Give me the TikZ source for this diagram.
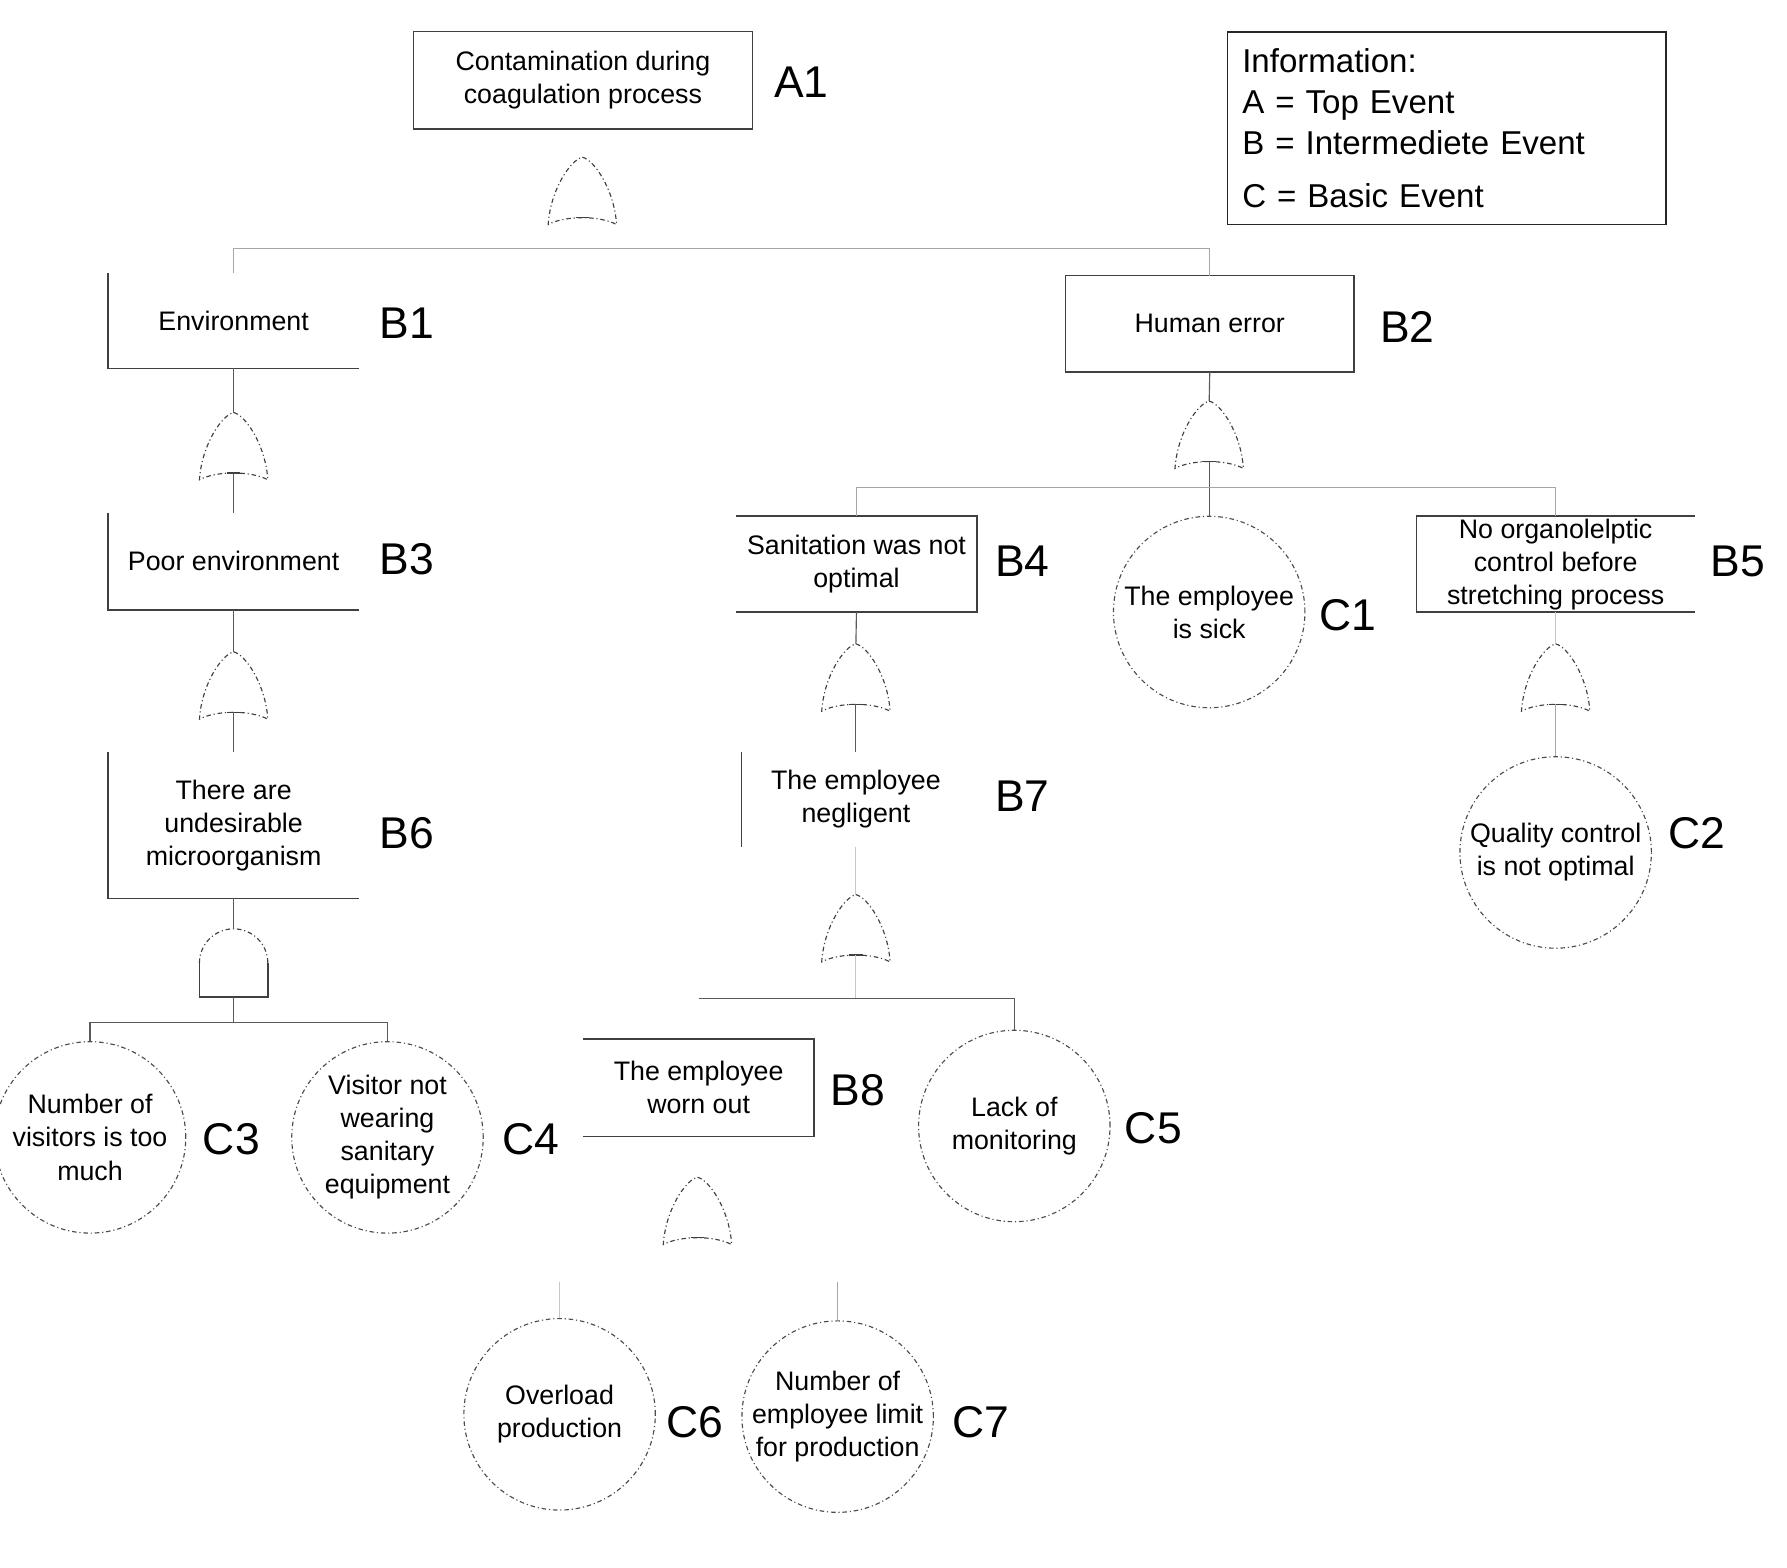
\documentclass[tikz,border=0pt]{standalone}
\usepackage{fontspec}
\setmainfont{Liberation Sans}

\begin{document}
\begin{tikzpicture}[x=1pt,y=-1pt,
    event/.style={align=center,inner sep=0,font=\fontsize{23.5}{29}\selectfont},
    basic/.style={circle,draw=black!70,line width=1pt,dash pattern=on 4pt off 2.5pt on 1pt off 2.5pt,
                  minimum size=168,inner sep=-8pt,align=center,font=\fontsize{23.5}{29}\selectfont},
    tag/.style={inner sep=0,font=\fontsize{39}{46}\selectfont},
    boxline/.style={draw=black!75,line width=1.3pt},
    link/.style={draw=black!65,line width=1pt},
    light/.style={draw=black!35,line width=1pt},
    faint/.style={draw=black!22,line width=1pt},
    gateline/.style={draw=black!75,line width=1pt,dash pattern=on 4pt off 2.5pt on 1pt off 2.5pt},
    orgate/.pic={
      \draw[gateline] (0,0) .. controls (10,2) and (28,28) .. (30,59)
                      .. controls (15,51) and (-15,51) .. (-30,59)
                      .. controls (-28,28) and (-10,2) .. cycle;
      \draw[boxline] (-6,53) -- (6,53);
      \coordinate (-top) at (0,0);
      \coordinate (-bot) at (0,53);
    },
    andgate/.pic={
      \draw[gateline] (-30,30) .. controls (-30,13.4) and (-16.6,0) .. (0,0)
                      .. controls (16.6,0) and (30,13.4) .. (30,30);
      \draw[boxline] (-30,30) -- (-30,60) -- (30,60) -- (30,30);
      \coordinate (-top) at (0,0);
      \coordinate (-bot) at (0,60);
    }]
  \useasboundingbox (0,0) rectangle (1568,1375);

  % events
  \node[event,minimum width=297,minimum height=85] (A1) at (511.5,70.5) {Contamination during\\coagulation process};
  \node[event,minimum width=220,minimum height=83] (B1) at (205,281.5) {Environment};
  \node[event,minimum width=253,minimum height=84] (B2) at (1061.5,284) {Human error};
  \node[event,minimum width=220,minimum height=85] (B3) at (205,492.5) {Poor environment};
  \node[event,minimum width=211,minimum height=84] (B4) at (751.5,495) {Sanitation was not\\optimal};
  \node[event,minimum width=244,minimum height=84] (B5) at (1365,495) {No organolelptic\\control before\\stretching process};
  \node[event,minimum width=220,minimum height=128] (B6) at (205,724) {There are\\undesirable\\microorganism};
  \node[event,minimum width=200,minimum height=83] (B7) at (751,701.5) {The employee\\negligent};
  \node[event,minimum width=202,minimum height=85] (B8) at (613,954.5) {The employee\\worn out};

  % basic events
  \node[basic] (C1) at (1061,537) {The employee\\is sick};
  \node[basic] (C2) at (1365,748) {Quality control\\is not optimal};
  \node[basic] (C3) at (79,998) {Number of\\visitors is too\\much};
  \node[basic] (C4) at (340,998) {Visitor not\\wearing\\sanitary\\equipment};
  \node[basic] (C5) at (890,988) {Lack of\\monitoring};
  \node[basic] (C6) at (491,1241) {Overload\\production};
  \node[basic] (C7) at (735,1243) {Number of\\employee limit\\for production};

  % codes
  \node[tag] (tA1) at (703,72) {A1};
  \node[tag] (tB1) at (357,284) {B1};
  \node[tag] (tB2) at (1235,287) {B2};
  \node[tag] (tB3) at (357,491) {B3};
  \node[tag] (tB4) at (897,492) {B4};
  \node[tag] (tB5) at (1525,493) {B5};
  \node[tag] (tB6) at (357,731) {B6};
  \node[tag] (tB7) at (897,699) {B7};
  \node[tag] (tB8) at (753,957) {B8};
  \node[tag] (tC1) at (1183,540) {C1};
  \node[tag] (tC2) at (1489,731) {C2};
  \node[tag] (tC3) at (203,1000) {C3};
  \node[tag] (tC4) at (466,1000) {C4};
  \node[tag] (tC5) at (1012,990) {C5};
  \node[tag] (tC6) at (610,1248) {C6};
  \node[tag] (tC7) at (861,1248) {C7};

  % legenda
  \node[draw=black!85,line width=1.5pt,minimum width=385,minimum height=169,text width=359,
        inner sep=13,align=left,font=\fontsize{29}{36}\selectfont] (info) at (1269.5,112.5)
       {Information:\\A = Top Event\\B = Intermediete Event\\[10pt]C = Basic Event};

  % box sides
  \draw[boxline] (A1.north west) rectangle (A1.south east);
  \draw[boxline] (B2.north west) rectangle (B2.south east);
  \draw[boxline] (B1.north west) -- (B1.south west) -- (B1.south east);
  \draw[boxline] (B3.north west) -- (B3.south west) -- (B3.south east);
  \draw[boxline] (B6.north west) -- (B6.south west) -- (B6.south east);
  \draw[boxline] (B4.north west) -- (B4.north east) -- (B4.south east) -- (B4.south west);
  \draw[boxline] (B8.north west) -- (B8.north east) -- (B8.south east) -- (B8.south west);
  \draw[boxline] (B5.north east) -- (B5.north west) -- (B5.south west) -- (B5.south east);
  \draw[boxline] (B7.north west) -- (B7.south west);

  % gates
  \pic (gA1) at (511,138) {orgate};
  \pic (gB1) at (205,362) {orgate};
  \pic (gB3) at (205,572) {orgate};
  \pic (gB6) at (205,815) {andgate};
  \pic (gB2) at (1061,352) {orgate};
  \pic (gB4) at (751,565) {orgate};
  \pic (gB5) at (1365,565) {orgate};
  \pic (gB7) at (751,785) {orgate};
  \pic (gB8) at (612,1033) {orgate};

  % connectors
  \coordinate (barA) at (511,218);
  \draw[light] (B1.north) |- (barA) -| (B2.north);
  \draw[link] (B1.south) -- (gB1-top);
  \draw[link] (gB1-bot) -- (B3.north);
  \draw[link] (B3.south) -- (gB3-top);
  \draw[link] (gB3-bot) -- (B6.north);
  \draw[link] (B6.south) -- (gB6-top);
  \coordinate (barB6) at (205,897);
  \draw[link] (gB6-bot) -- (barB6);
  \draw[link] (C3.north) |- (barB6) -| (C4.north);
  \draw[link] (B2.south) -- (gB2-top);
  \coordinate (barB2) at (1061,428);
  \draw[link] (gB2-bot) -- (C1.north);
  \draw[light] (B4.north) |- (barB2) -| (B5.north);
  \draw[link] (B4.south) -- (gB4-top);
  \draw[link] (gB4-bot) -- (B7.north);
  \draw[faint] (B7.south) -- (gB7-top);
  \coordinate (barB7) at (751,876);
  \draw[faint] (gB7-bot) -- (barB7);
  \draw[link] (B8.north |- barB7) -- (barB7) -| (C5.north);
  \draw[faint] (B5.south) -- (gB5-top);
  \draw[light] (gB5-bot) -- (C2.north);
  \draw[faint] (C6.north) -- ++(0,-32);
  \draw[light] (C7.north) -- ++(0,-34);
\end{tikzpicture}
\end{document}
